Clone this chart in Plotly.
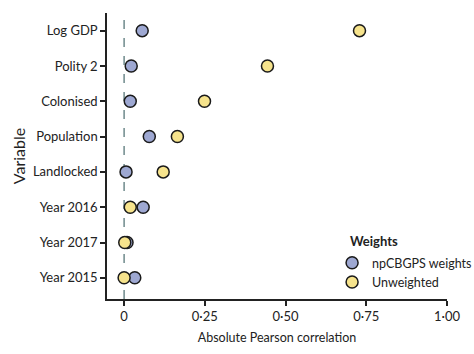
import plotly.graph_objects as go

variables = ["Year 2015", "Year 2017", "Year 2016", "Landlocked", "Population", "Colonised", "Polity 2", "Log GDP"]
npcbgps = [0.033, 0.009, 0.059, 0.006, 0.078, 0.019, 0.022, 0.056]
unweighted = [0.0, 0.002, 0.019, 0.121, 0.165, 0.249, 0.444, 0.729]
x_ticks = [0, 0.25, 0.5, 0.75, 1.0]
x_ticktext = ["0", "0·25", "0·50", "0·75", "1·00"]

font = "Lato, Open Sans, sans-serif"
fig = go.Figure()
fig.add_trace(go.Scatter(x=npcbgps, y=variables, mode="markers", name="npCBGPS weights",
                         marker=dict(size=12, color="#9ea8d2", line=dict(color="#1a1a1a", width=1.5))))
fig.add_trace(go.Scatter(x=unweighted, y=variables, mode="markers", name="Unweighted",
                         marker=dict(size=12, color="#f6e38c", line=dict(color="#1a1a1a", width=1.5))))
fig.add_shape(type="line", x0=0, x1=0, y0=0, y1=1, yref="paper", xref="x",
              line=dict(color="#6f8a8c", width=1.5, dash="dash"), layer="below")
fig.add_annotation(text="<b>Weights</b>", x=0.709, y=0.203, xref="paper", yref="paper",
                   xanchor="left", yanchor="middle", showarrow=False, font=dict(size=13))
fig.update_layout(
    width=474, height=354, margin=dict(l=107, r=27, t=13, b=55, autoexpand=False),
    plot_bgcolor="white", paper_bgcolor="white",
    font=dict(family=font, size=13, color="#222"),
    xaxis=dict(range=[-0.053, 1.0], tickvals=x_ticks, ticktext=x_ticktext, showgrid=False,
               zeroline=False, showline=True, linecolor="#222", linewidth=1.5,
               ticks="outside", ticklen=5, tickcolor="#222", tickwidth=1.5,
               title=dict(text="Absolute Pearson correlation", standoff=10, font=dict(size=12.5))),
    yaxis=dict(type="category", categoryorder="array", categoryarray=variables,
               range=[-0.6, 7.5], showgrid=False, zeroline=False, showline=True,
               linecolor="#222", linewidth=1.5, ticks="outside", ticklen=5, tickcolor="#222",
               tickwidth=1.5, title=dict(text="Variable", standoff=3)),
    legend=dict(x=0.662, y=0.178, xanchor="left", yanchor="top", font=dict(size=12.5),
                bgcolor="rgba(0,0,0,0)", itemwidth=30, tracegroupgap=0),
    showlegend=True,
)
fig.write_html("out.html")
